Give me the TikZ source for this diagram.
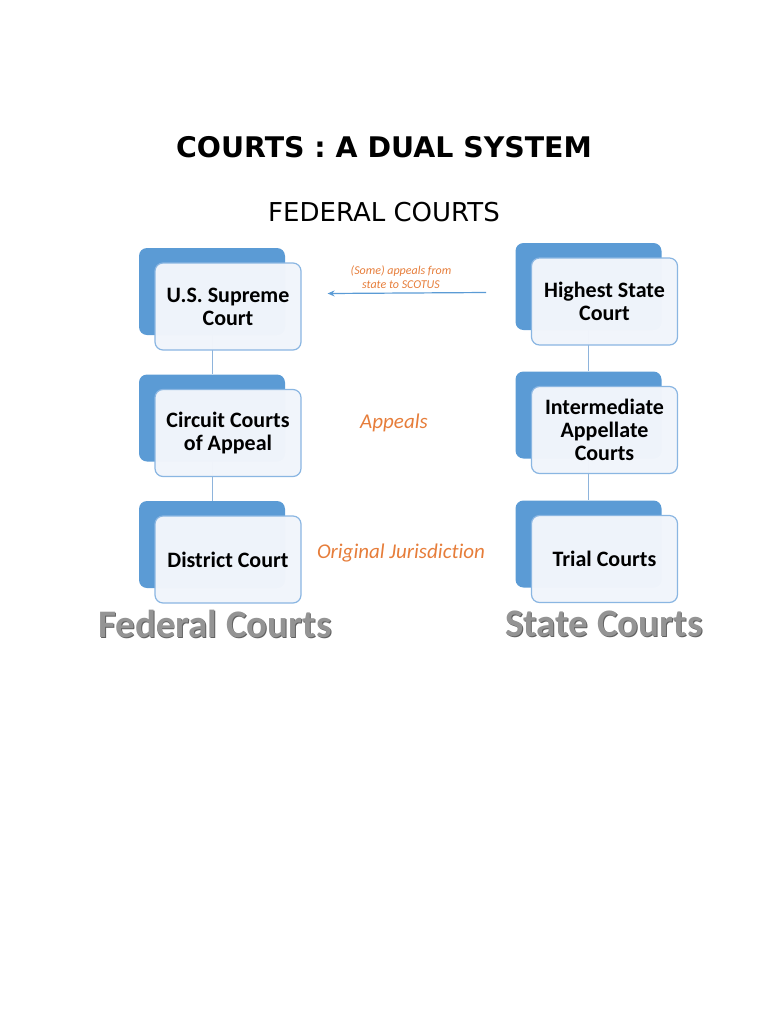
\documentclass[tikz,border=0pt]{standalone}
\usepackage{fontspec}
\setmainfont{Carlito}[RawFeature={-liga;-calt}]
\newfontfamily\headfont{DejaVu Sans}
\usetikzlibrary{calc,arrows.meta}

\definecolor{courtblue}{HTML}{5B9BD5}
\definecolor{courtedge}{HTML}{8AB6E2}
\definecolor{courtfill}{HTML}{F1F5FB}
\definecolor{linkblue}{HTML}{8EB4DC}
\definecolor{noteorange}{HTML}{E67D3A}

\tikzset{
  backbox/.style={fill=courtblue, rounded corners=4pt, minimum width=73pt, minimum height=43.5pt, inner sep=0pt},
  frontbox/.style={draw=courtedge, line width=0.6pt, fill=courtfill, fill opacity=0.98, text opacity=1,
    rounded corners=4pt, minimum width=73pt, minimum height=43.5pt, inner sep=0pt, align=center,
    font=\fontsize{11}{11.5}\selectfont\bfseries},
  link/.style={draw=linkblue, line width=0.5pt},
  note/.style={text=noteorange, font=\fontsize{10.5}{12}\selectfont\itshape},
  sidename/.style={font=\fontsize{19.5}{19.5}\selectfont\bfseries}
}

% gray heading with a soft shadow under it
\newcommand\sidehead[3]{%
  \node[sidename, text=black!62] at ($(#2)+(0.9,0.9)$) {#3};
  \node[sidename, text=black!42] (#1) at (#2) {#3};}

\begin{document}
\begin{tikzpicture}[x=0.5pt, y=-0.5pt]
  \useasboundingbox (0,0) rectangle (768,1024);

  %%%%% HEADINGS %%%%%
  \node[font=\headfont\fontsize{14.2}{14.2}\selectfont\bfseries] (title) at (384,147) {COURTS : A DUAL SYSTEM};
  \node[font=\headfont\fontsize{13}{13}\selectfont] (fedhead) at (384,212) {FEDERAL COURTS};

  %%%%% BACK BOXES %%%%%
  \node[backbox] (supb) at (212,291.5) {};
  \node[backbox] (cirb) at (212,418) {};
  \node[backbox] (disb) at (212,544.5) {};
  \node[backbox] (hscb) at (588.5,286.5) {};
  \node[backbox] (intb) at (588.5,415) {};
  \node[backbox] (trib) at (588.5,544) {};

  %%%%% LINKS %%%%%
  \draw[link] (supb) -- (cirb);
  \draw[link] (cirb) -- (disb);
  \draw[link] (hscb) -- (intb);
  \draw[link] (intb) -- (trib);

  %%%%% FRONT BOXES %%%%%
  \node[frontbox] (sup) at (228,306.5) {U.S. Supreme\\Court};
  \node[frontbox] (cir) at (228,433) {Circuit Courts\\of Appeal};
  \node[frontbox] (dis) at (228,559.5) {District Court};
  \node[frontbox] (hsc) at (604.5,301.5) {Highest State\\Court};
  \node[frontbox] (int) at (604.5,430) {Intermediate\\Appellate\\Courts};
  \node[frontbox] (tri) at (604.5,559) {Trial Courts};

  %%%%% NOTES %%%%%
  \draw[draw=courtblue, line width=0.6pt, -{Stealth[length=3.5pt, width=3pt]}]
    ([shift={(-29,6)}]hscb.west) -- ([shift={(26,-13)}]sup.east);
  \node[text=noteorange, font=\fontsize{6}{7}\selectfont\itshape, align=center] (scotus) at (401,277)
    {(Some) appeals from\\state to SCOTUS};
  \node[note] (appeals) at (394,423) {Appeals};
  \node[note] (orig) at (401,553) {Original Jurisdiction};

  %%%%% SIDE NAMES %%%%%
  \sidehead{fedname}{215,624}{Federal Courts}
  \sidehead{statename}{604,624}{State Courts}
\end{tikzpicture}
\end{document}
